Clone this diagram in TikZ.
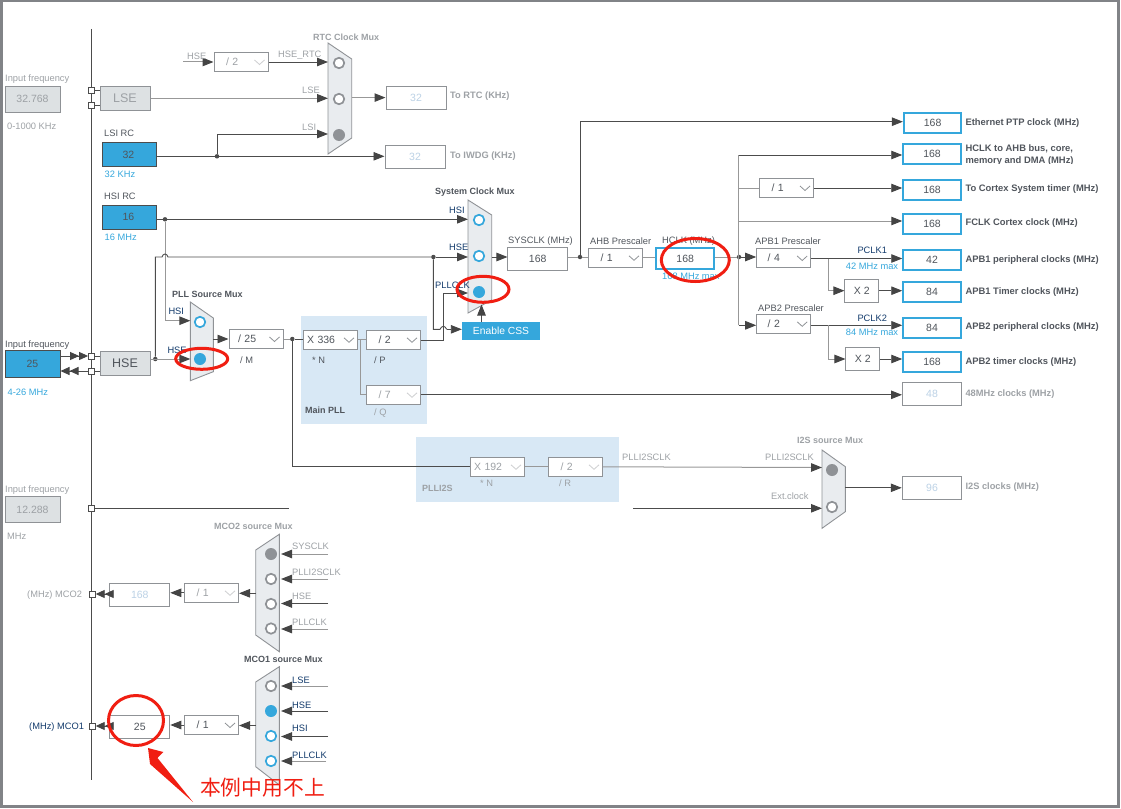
\documentclass[tikz,border=0pt]{standalone}
\usepackage{fontspec}
\setmainfont{Liberation Sans}
\newfontfamily\cjkfont{Noto Sans CJK SC}
\usetikzlibrary{arrows.meta,calc,shapes.geometric}
\definecolor{wirec}{HTML}{4C4C4C}
\definecolor{wirel}{HTML}{989898}
\definecolor{boxline}{HTML}{8F9296}
\definecolor{bluec}{HTML}{35A7DC}
\definecolor{paleblue}{HTML}{D8E8F5}
\definecolor{greyfill}{HTML}{DDE1E3}
\definecolor{muxfill}{HTML}{E9ECEF}
\definecolor{dimtext}{HTML}{9DA1A5}
\definecolor{dimval}{HTML}{BCD2E6}
\definecolor{darktext}{HTML}{50555C}
\definecolor{navy}{HTML}{123A6B}
\definecolor{tipc}{HTML}{444444}
\definecolor{redc}{HTML}{F01E12}
\newcommand{\ddbox}[6]{%
  \node[#6] (#1) at (#2,#3) {\hspace*{#4pt}#5};
  \draw[#6chev] ([xshift=-14pt,yshift=2pt]#1.east) -- ([xshift=-9pt,yshift=-2.5pt]#1.east) -- ([xshift=-4pt,yshift=2pt]#1.east);
}
\tikzset{
  tipA/.tip={Triangle[length=11pt,width=8.5pt,color=tipc]},
  wire/.style={draw=wirec,line width=.9pt},
  wirepale/.style={draw=wirel,line width=1pt},
  aw/.style={wire,-{tipA}},
  awl/.style={wirepale,-{tipA}},
  aww/.style={wire,-{Triangle[length=9pt,width=8pt,color=tipc]Triangle[length=9pt,width=8pt,color=tipc]}},
  txt/.style={anchor=west,inner sep=0pt,yshift=-1pt,font=\fontsize{9.3}{11}\selectfont,text=dimtext},
  dk/.style={txt,text=darktext},
  nv/.style={txt,text=navy},
  bl/.style={txt,text=bluec},
  bd/.style={txt,font=\fontsize{9.4}{11}\bfseries\selectfont,text=darktext},
  bdim/.style={txt,font=\fontsize{9.3}{11}\bfseries\selectfont,text=dimtext},
  vbase/.style={rectangle,inner sep=0pt,font=\fontsize{10.5}{12}\selectfont},
  valbox/.style={vbase,draw=boxline,line width=1pt,fill=white,text=darktext,minimum width=60pt,minimum height=23pt},
  dimbox/.style={valbox,text=dimval},
  outbox/.style={vbase,draw=bluec,line width=2pt,fill=white,text=darktext,minimum width=57.5pt,minimum height=20.5pt},
  inbox/.style={vbase,draw=wirec,line width=1pt,fill=bluec,text=darktext,minimum width=54pt,minimum height=24pt},
  greybox/.style={vbase,draw=boxline,line width=1pt,fill=greyfill,text=dimtext},
  dd/.style={vbase,draw=boxline,line width=1pt,fill=white,text=darktext,text width=54pt,align=left,minimum height=19pt},
  dddim/.style={dd,text=dimtext},
  ddchev/.style={draw=boxline,line width=.8pt},
  dddimchev/.style={draw=boxline!45,line width=.8pt},
  sq/.style={rectangle,draw=wirec,fill=white,line width=.8pt,minimum size=6pt,inner sep=0pt},
  jdot/.style={circle,fill=wirec,inner sep=0pt,minimum size=4.5pt},
  muxs/.style={draw=boxline,line width=.9pt,fill=muxfill},
  ringb/.style={circle,draw=bluec,fill=white,line width=1.7pt,minimum size=10.5pt,inner sep=0pt},
  ringg/.style={circle,draw=boxline,fill=white,line width=1.7pt,minimum size=10.5pt,inner sep=0pt},
  fillb/.style={circle,fill=bluec,minimum size=12pt,inner sep=0pt},
  fillg/.style={circle,fill=boxline,minimum size=12pt,inner sep=0pt},
  panel/.style={fill=paleblue,draw=none},
  redmark/.style={draw=redc,line width=3pt},
}
\begin{document}
\begin{tikzpicture}[x=1pt,y=-1pt]
\useasboundingbox (0,0) rectangle (1121,808);
\draw[draw=boxline!90!black,line width=2.6pt] (1.2,1.2) rectangle (1118.6,806.4);

% panels
\fill[panel] (300.5,316) rectangle (427,424);
\fill[panel] (416,436.7) rectangle (618.7,501.7);

% bus
\coordinate (busT) at (91.5,29);
\coordinate (busB) at (91.5,780);
\draw[wire] (busT) -- (busB);

% muxes
\draw[muxs] (328,43) -- (351.7,59) -- (351.7,138) -- (328,154) -- cycle;
\draw[muxs] (468,200) -- (491.7,215) -- (491.7,300) -- (468,313) -- cycle;
\draw[muxs] (190.3,302) -- (213.3,318) -- (213.3,371.7) -- (190.3,380.7) -- cycle;
\draw[muxs] (822,450) -- (845.3,466.7) -- (845.3,511.7) -- (822,528.3) -- cycle;
\draw[muxs] (279.3,534.3) -- (255.7,550) -- (255.7,635) -- (279.3,651.7) -- cycle;
\draw[muxs] (279.3,666.7) -- (255.7,682) -- (255.7,766.7) -- (279.3,785) -- cycle;

% mux selectors
\node[ringg] (rtcA) at (339,63) {};
\node[ringg] (rtcB) at (339,99) {};
\node[fillg] (rtcC) at (339,135) {};
\node[ringb] (sysA) at (479,220) {};
\node[ringb] (sysB) at (479,256) {};
\node[fillb] (sysC) at (479,292) {};
\node[ringb] (pllA) at (200,322) {};
\node[fillb] (pllB) at (200,359) {};
\node[fillg] (i2sA) at (832,470) {};
\node[ringg] (i2sB) at (832,507) {};
\node[fillg] (moA) at (271,554) {};
\node[ringg] (moB) at (271,579) {};
\node[ringg] (moC) at (271,604) {};
\node[ringg] (moD) at (271,628.5) {};
\node[ringg] (mpA) at (271,686) {};
\node[fillb] (mpB) at (271,711) {};
\node[ringb] (mpC) at (271,736) {};
\node[ringb] (mpD) at (271,761) {};

% source boxes
\node[greybox,minimum width=55pt,minimum height=26pt] (in32) at (32.5,99.3) {32.768};
\node[greybox,minimum width=50pt,minimum height=24.5pt,font=\fontsize{12.5}{14}\selectfont] (lse) at (125,98.3) {LSE};
\node[inbox] (lsi) at (129.5,154.5) {\hspace*{-2pt}32};
\node[inbox] (hsi) at (129.5,217.2) {\hspace*{-2pt}16};
\node[inbox,minimum width=55pt,minimum height=26.5pt] (in25) at (32.5,364.2) {25};
\node[greybox,minimum width=50pt,minimum height=24.5pt,font=\fontsize{12.5}{14}\selectfont,text=darktext] (hse) at (125,363.3) {HSE};
\node[greybox,minimum width=55pt,minimum height=26pt] (in12) at (32.5,509.6) {12.288};

% squares on the bus
\node[sq] (sA) at (91.5,90.5) {};
\node[sq] (sB) at (91.5,105.6) {};
\node[sq] (sC) at (91.5,356) {};
\node[sq] (sD) at (91.5,371) {};
\node[sq] (sE) at (91.5,508.3) {};
\node[sq] (sF) at (92.3,594) {};
\node[sq] (sG) at (92.3,726) {};

% dropdowns and value boxes
\ddbox{rtcdiv}{241}{62}{12}{/ 2}{dddim}
\ddbox{pllm}{256}{339}{9}{/ 25}{dd}
\ddbox{plln}{330.5}{339.8}{3.5}{X 336}{dd}
\ddbox{pllp}{393.5}{339.8}{12}{/ 2}{dd}
\ddbox{pllq}{393.5}{394.8}{12}{/ 7}{dddim}
\ddbox{i2sn}{497.5}{466.8}{3.5}{X 192}{dddim}
\ddbox{i2sr}{575.5}{466.8}{12}{/ 2}{dddim}
\ddbox{ahb}{615.5}{257.8}{12}{/ 1}{dd}
\ddbox{systick}{786.5}{188}{12}{/ 1}{dd}
\ddbox{apbA}{783.7}{258}{11}{/ 4}{dd}
\ddbox{apbB}{783.7}{323.8}{11}{/ 2}{dd}
\ddbox{moDiv}{211.5}{592.8}{12}{/ 1}{dddim}
\ddbox{mpDiv}{211.5}{725}{12}{/ 1}{dd}
\node[dimbox] (rtcv) at (416,97.6) {32};
\node[dimbox] (iwdg) at (415,156.6) {32};
\node[valbox,minimum width=59.5pt] (sysv) at (537.7,259) {168};
\node[outbox,minimum height=21pt] (hclk) at (685.2,258.7) {168};
\node[dimbox,minimum width=59.5pt] (i2sv) at (932,487.8) {96};
\node[dimbox] (mov) at (139.8,595) {168};
\node[valbox] (mpv) at (139.8,727) {25};
\node[valbox,minimum width=33.7pt,minimum height=23.3pt] (xA) at (861.8,290.7) {X 2};
\node[valbox,minimum width=33.7pt,minimum height=23.3pt] (xB) at (862.8,359) {X 2};
\node[rectangle,fill=bluec,text=white,inner sep=0pt,minimum width=78pt,minimum height=18pt,font=\fontsize{10.3}{12}\selectfont] (css) at (501,331) {Enable CSS};
\node[outbox] (oEth) at (932.6,122.8) {168};
\node[outbox] (oHclk) at (932,153.8) {168};
\node[outbox] (oSys) at (932,190) {168};
\node[outbox] (oF) at (932,224) {168};
\node[outbox] (oA) at (932,260.2) {42};
\node[outbox] (oT) at (932,292) {84};
\node[outbox] (oB) at (932,327.8) {84};
\node[outbox] (oU) at (932,362.2) {168};
\node[dimbox,minimum width=59pt,minimum height=22.5pt] (o48) at (932,393.8) {48};

% junctions
\node[jdot] (jLsi) at (217,156.3) {};
\node[jdot] (jHsi) at (165,219.3) {};
\node[jdot] (jHse) at (155.3,359) {};
\node[jdot] (jM) at (292.3,339) {};
\node[jdot] (jSys) at (433.4,257) {};
\node[jdot] (jClk) at (580,257) {};
\node[jdot] (jH) at (739,257) {};

% named ends
\coordinate (hseIn) at (183,62);
\coordinate (pA) at (328,62);
\coordinate (pB) at (328,98.3);
\coordinate (pC) at (328,134);
\coordinate (rtcOut) at (351.7,97.6);
\coordinate (sA1) at (468,219.3);
\coordinate (sB1) at (468,257);
\coordinate (sC1) at (468,293);
\coordinate (sysOut) at (491.7,257);
\coordinate (pllA1) at (190.3,320.7);
\coordinate (pllB1) at (190.3,359);
\coordinate (pllOut) at (213.3,339);
\coordinate (hopA) at (162,257);
\coordinate (hopB) at (168,257);
\coordinate (hopC) at (440,329.3);
\coordinate (hopD) at (446.7,329.3);
\coordinate (splitN) at (360.5,339.8);
\coordinate (i2sIn) at (822,467.5);
\coordinate (extIn) at (822,508.3);
\coordinate (extS) at (633,508.3);
\coordinate (busE) at (289,508.3);
\coordinate (i2sOut) at (845.3,487.8);
\coordinate (moEdge) at (281,0);
\coordinate (moS1) at (328,554);
\coordinate (moS2) at (328,579);
\coordinate (moS3) at (328,603.5);
\coordinate (moS4) at (328,629);
\coordinate (mpS1) at (328,686);
\coordinate (mpS2) at (328,711);
\coordinate (mpS3) at (328,736.5);
\coordinate (mpS4) at (326,761);
\coordinate (moOut) at (255.7,593.3);
\coordinate (mpOut) at (255.7,725.5);
\coordinate (brA) at (828.7,258.5);
\coordinate (brB) at (828.7,325.3);
\coordinate (busH) at (738.5,155);
\coordinate (busJ) at (738.5,325.3);
\coordinate (cssTop) at (481.5,322);
\coordinate (cssTip) at (481.5,304.5);
\coordinate (pllPout) at (443,340);
\coordinate (pllPup) at (443,293);

% wires of the clock tree, top left
\draw[awl] (hseIn) -- (rtcdiv.west);
\draw[aw] (rtcdiv.east) -- (pA);
\draw[awl] (lse.east) -- (pB);
\draw[wire] (lsi.east |- jLsi) -- (jLsi);
\draw[aw] (jLsi) -- (iwdg.west |- jLsi);
\draw[aw] (jLsi) |- (pC);
\draw[awl] (rtcOut) -- (rtcv.west);
\draw[wire] (sA.east) -- (lse.west |- sA);
\draw[wire] (sB.east) -- (lse.west |- sB);
\draw[wire] (sC.east) -- (hse.west |- sC);
\draw[wire] (sD.east) -- (hse.west |- sD);
\draw[aw] (hsi.east |- jHsi) -- (sA1);
\draw[awl] (jHsi) |- (pllA1);
\draw[wire] (jHse) |- (hopA) .. controls ($(hopA)+(1,-4)$) and ($(hopB)+(-1,-4)$) .. (hopB) -- (jSys);
\draw[aw] (jSys) -- (sB1);
\draw[wire] (jSys) |- (hopC) .. controls ($(hopC)+(2,-4)$) and ($(hopD)+(-2,-4)$) .. (hopD);
\draw[aw] (hopD) -- (css.west |- hopD);
\draw[awl] (hse.east |- jHse) -- (pllB1);
\draw[aw] (pllOut) -- (pllm.west);
\draw[aww] (in25.east |- sC) -- (sC.west);
\draw[aww] (sD.west) -- (in25.east |- sD);
\draw[wirepale] (pllm.east) -- (jM);
\draw[wire] (jM) -- (plln.west |- jM);
\draw[wirepale] (plln.east) -- (pllp.west);
\draw[wirepale] (splitN) |- (pllq.west);
\draw[wire] (pllp.east |- pllPout) -- (pllPout) -- (pllPup);
\draw[aw] (pllPup) -- (sC1);
\draw[aw] (cssTop) -- (cssTip);
\draw[aw] (pllq.east) -- (o48.west |- pllq);
\draw[wire] (jM) |- (i2sn.west);
\draw[wirepale] (i2sn.east) -- (i2sr.west);
\draw[awl] (i2sr.east) -- (i2sIn);
\draw[aw] (extS) -- (extIn);
\draw[wire] (sE) -- (busE);
\draw[aw] (i2sOut) -- (i2sv.west);

% system clock side
\draw[aw] (sysOut) -- (sysv.west |- sysOut);
\draw[wirepale] (sysv.east |- jClk) -- (jClk);
\draw[wirepale] (jClk) -- (ahb.west |- jClk);
\draw[aw] (jClk) |- (oEth.west |- 0,121.7);
\draw[wirepale] (ahb.east) -- (hclk.west |- ahb);
\draw[wirepale] (hclk.east |- jH) -- (jH);
\draw[aw] (jH) -- (apbA.west |- jH);
\draw[wirepale] (busH) -- (busJ);
\draw[aw] (busH) -- (oHclk.west |- busH);
\draw[wirepale] (busH |- systick) -- (systick.west);
\draw[aw] (systick.east) -- (oSys.west |- systick);
\draw[awl] (busH |- 0,221) -- (oF.west |- 0,221);
\draw[aw] (busJ) -- (apbB.west |- busJ);
\draw[aw] (apbA.east |- brA) -- (oA.west |- brA);
\draw[awl] (brA) |- (xA.west);
\draw[aw] (xA.east) -- (oT.west |- xA);
\draw[aw] (apbB.east |- brB) -- (oB.west |- brB);
\draw[awl] (brB) |- (xB.west);
\draw[aw] (xB.east) -- (oU.west |- xB);

% MCO
\draw[awl] (moS1) -- (moS1 -| moEdge);
\draw[awl] (moS2) -- (moS2 -| moEdge);
\draw[aw] (moS3) -- (moS3 -| moEdge);
\draw[awl] (moS4) -- (moS4 -| moEdge);
\draw[awl] (mpS1) -- (mpS1 -| moEdge);
\draw[aw] (mpS2) -- (mpS2 -| moEdge);
\draw[aw] (mpS3) -- (mpS3 -| moEdge);
\draw[awl] (mpS4) -- (mpS4 -| moEdge);
\draw[aw] (moOut) -- (moDiv.east |- moOut);
\draw[aw] (moDiv.west) -- (mov.east |- moDiv);
\draw[aww] (mov.west |- sF) -- (sF.east);
\draw[aw] (mpOut) -- (mpDiv.east |- mpOut);
\draw[aw] (mpDiv.west) -- (mpv.east |- mpDiv);
\draw[aww] (mpv.west |- sG) -- (sG.east);

% texts, left
\node[txt] (tA) at (5,78.5) {Input frequency};
\node[txt] (tB) at (7,125.5) {0-1000 KHz};
\node[dk] (tC) at (104,132.7) {LSI RC};
\node[bl] (tD) at (104.5,173.7) {32 KHz};
\node[dk] (tE) at (104,195.7) {HSI RC};
\node[bl] (tF) at (104.5,236) {16 MHz};
\node[dk] (tG) at (5,344) {Input frequency};
\node[bl] (tH) at (7.5,391) {4-26 MHz};
\node[txt] (tI) at (5,489) {Input frequency};
\node[txt] (tJ) at (7,535.5) {MHz};
\node[txt] (tK) at (187,55.5) {HSE};
\node[txt] (tL) at (278,54.5) {HSE\_RTC};
\node[txt] (tM) at (302,89.5) {LSE};
\node[txt] (tN) at (302,126.5) {LSI};
\node[bdim,font=\fontsize{9}{11}\bfseries\selectfont] (tO) at (313,36.5) {RTC Clock Mux};
\node[bdim] (tP) at (450,95.5) {To RTC (KHz)};
\node[bdim] (tQ) at (450,155.5) {To IWDG (KHz)};
\node[dk,font=\fontsize{9}{11}\bfseries\selectfont] (tR) at (172,293.7) {PLL Source Mux};
\node[nv] (tS) at (168.3,310.7) {HSI};
\node[nv] (tT) at (167.3,349.7) {HSE};
\node[dk] (tU) at (240,359.3) {/ M};
\node[dk] (tV) at (312,359.3) {* N};
\node[dk] (tW) at (374,359.3) {/ P};
\node[txt] (tX) at (374,412.5) {/ Q};
\node[dk,font=\fontsize{9}{11}\bfseries\selectfont] (tY) at (305,409.5) {Main PLL};
\node[dk,font=\fontsize{9}{11}\bfseries\selectfont] (tZ) at (435,190.7) {System Clock Mux};
\node[nv] (uA) at (449,209.7) {HSI};
\node[nv] (uB) at (449,246.7) {HSE};
\node[nv] (uC) at (435,284.3) {PLLCLK};
\node[dk] (uD) at (508,239.7) {SYSCLK (MHz)};
\node[dk] (uE) at (590,239.7) {AHB Prescaler};
\node[dk] (uF) at (662,239.7) {HCLK (MHz)};
\node[bl] (uG) at (662,275.5) {168 MHz max};
\node[dk] (uH) at (755,240) {APB1 Prescaler};
\node[dk] (uI) at (758,306.7) {APB2 Prescaler};
\node[nv] (uJ) at (857.3,249.7) {PCLK1};
\node[bl] (uK) at (845.7,265.7) {42 MHz max};
\node[nv] (uL) at (857.3,317.3) {PCLK2};
\node[bl] (uM) at (845.7,331.3) {84 MHz max};
\node[bd] (vA) at (965.3,121.7) {Ethernet PTP clock (MHz)};
\begin{scope}
  \clip (960,140) rectangle (1110,163.7);
  \node[bd] (vB) at (965.3,147.7) {HCLK to AHB bus, core,};
  \node[bd] (vC) at (965.3,160) {memory and DMA (MHz)};
\end{scope}
\node[bd] (vD) at (965.3,188.3) {To Cortex System timer (MHz)};
\node[bd] (vE) at (965.3,222.3) {FCLK Cortex clock (MHz)};
\node[bd] (vF) at (965.3,258.7) {APB1 peripheral clocks (MHz)};
\node[bd] (vG) at (965.3,290.7) {APB1 Timer clocks (MHz)};
\node[bd] (vH) at (965.3,325.7) {APB2 peripheral clocks (MHz)};
\node[bd] (vI) at (965.3,360.7) {APB2 timer clocks (MHz)};
\node[bdim] (vJ) at (965.3,392.7) {48MHz clocks (MHz)};
\node[bdim] (vK) at (965.3,486) {I2S clocks (MHz)};
\node[txt] (wA) at (622,456.5) {PLLI2SCLK};
\node[txt] (wB) at (765,456.5) {PLLI2SCLK};
\node[txt] (wC) at (771,495.5) {Ext.clock};
\node[bdim,font=\fontsize{9}{11}\bfseries\selectfont] (wD) at (797,439.7) {I2S source Mux};
\node[txt] (wE) at (480,482.5) {* N};
\node[txt] (wF) at (559,482) {/ R};
\node[bdim,font=\fontsize{9}{11}\bfseries\selectfont] (wG) at (422,487.5) {PLLI2S};
\node[bdim,font=\fontsize{9}{11}\bfseries\selectfont] (wH) at (214,525.5) {MCO2 source Mux};
\node[txt] (wI) at (292,545.5) {SYSCLK};
\node[txt] (wJ) at (292,571.5) {PLLI2SCLK};
\node[txt] (wK) at (292,595.5) {HSE};
\node[txt] (wL) at (292,621.5) {PLLCLK};
\node[txt] (wM) at (27,594) {(MHz) MCO2};
\node[dk,font=\fontsize{9}{11}\bfseries\selectfont] (wN) at (244,658) {MCO1 source Mux};
\node[nv] (wO) at (292,679.5) {LSE};
\node[nv] (wP) at (292,704.5) {HSE};
\node[nv] (wQ) at (292,727.5) {HSI};
\node[nv] (wR) at (292,754.5) {PLLCLK};
\node[nv] (wS) at (29,726) {(MHz) MCO1};

% red marks
\node[redmark,ellipse,minimum width=52pt,minimum height=21pt,inner sep=0pt] (rPll) at (201.7,358.8) {};
\node[redmark,ellipse,minimum width=52pt,minimum height=26pt,inner sep=0pt] (rSys) at (483,289.3) {};
\node[redmark,ellipse,minimum width=68pt,minimum height=43pt,inner sep=0pt] (rHclk) at (695.3,260) {};
\node[redmark,ellipse,minimum width=55pt,minimum height=50pt,inner sep=0pt] (rMco) at (136,720.5) {};
\fill[redc] (148,748) -- (163.3,752) -- (157.5,758) -- (193,802) -- (150,764) -- cycle;
\node[inner sep=0pt,text=redc,font=\cjkfont\fontsize{20.8}{24}\selectfont] (note) at (262.5,788) {本例中用不上};
\end{tikzpicture}
\end{document}
